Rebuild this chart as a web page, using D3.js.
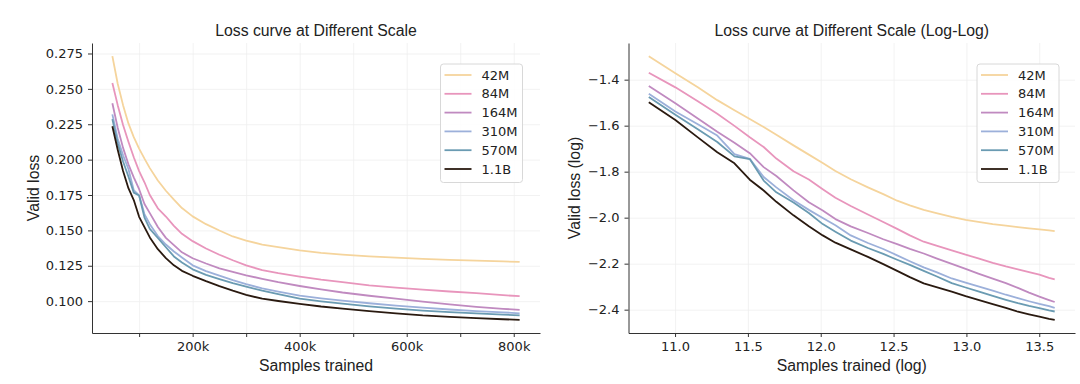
<!DOCTYPE html>
<html>
<head>
<meta charset="utf-8">
<script src="https://cdn.jsdelivr.net/npm/d3@7"></script>
<style>
  body { margin: 0; background: #fff; }
  svg text { font-family: "DejaVu Sans", sans-serif; fill: #222; }
  .grid line { stroke: #efefef; stroke-width: 0.8; }
  .grid .domain { display: none; }
  .axis .domain, .axis line { stroke: #333; }
</style>
</head>
<body>
<div id="chart"></div>
<script>
// samples trained, in thousands
const samplesK = [50, 60, 70, 80, 90, 100, 110, 120, 135, 150, 165, 180, 200, 225, 250, 275,
  300, 330, 360, 400, 440, 480, 530, 580, 630, 680, 730, 780, 811];

const loss42M = [0.2731, 0.2536, 0.2385, 0.2256, 0.2159, 0.2078, 0.2007, 0.1940, 0.1853, 0.1780,
  0.1717, 0.1658, 0.1599, 0.1544, 0.1499, 0.1457, 0.1428, 0.1400, 0.1381, 0.1358, 0.1341, 0.1329,
  0.1316, 0.1307, 0.1299, 0.1292, 0.1286, 0.1281, 0.1277];
const loss84M = [0.2541, 0.2385, 0.2245, 0.2127, 0.2017, 0.1919, 0.1840, 0.1750, 0.1656, 0.1598,
  0.1532, 0.1476, 0.1424, 0.1372, 0.1328, 0.1289, 0.1253, 0.1219, 0.1198, 0.1174, 0.1152, 0.1134,
  0.1112, 0.1095, 0.1081, 0.1068, 0.1056, 0.1042, 0.1035];
const loss164M = [0.2398, 0.2225, 0.2083, 0.1967, 0.1875, 0.1791, 0.1686, 0.1622, 0.1524, 0.1447,
  0.1396, 0.1345, 0.1303, 0.1266, 0.1232, 0.1206, 0.1182, 0.1158, 0.1134, 0.1107, 0.1083, 0.1061,
  0.1038, 0.1018, 0.0997, 0.0977, 0.0960, 0.0946, 0.0938];
const loss310M = [0.2320, 0.2148, 0.2031, 0.1934, 0.1784, 0.1748, 0.1615, 0.1544, 0.1460, 0.1400,
  0.1351, 0.1309, 0.1253, 0.1212, 0.1181, 0.1149, 0.1120, 0.1090, 0.1068, 0.1039, 0.1020, 0.1004,
  0.0985, 0.0968, 0.0954, 0.0941, 0.0930, 0.0921, 0.0914];
const loss570M = [0.2286, 0.2116, 0.1987, 0.1881, 0.1767, 0.1746, 0.1590, 0.1511, 0.1446, 0.1381,
  0.1316, 0.1273, 0.1225, 0.1186, 0.1156, 0.1127, 0.1102, 0.1074, 0.1049, 0.1018, 0.0999, 0.0982,
  0.0963, 0.0947, 0.0933, 0.0922, 0.0913, 0.0904, 0.0900];
const loss1_1B = [0.2236, 0.2070, 0.1919, 0.1798, 0.1714, 0.1596, 0.1523, 0.1450, 0.1367, 0.1304,
  0.1253, 0.1214, 0.1179, 0.1141, 0.1106, 0.1074, 0.1045, 0.1017, 0.1001, 0.0981, 0.0962, 0.0947,
  0.0929, 0.0914, 0.0899, 0.0889, 0.0880, 0.0872, 0.0868];

const seriesNames = ['42M', '84M', '164M', '310M', '570M', '1.1B'];
const seriesLoss = [loss42M, loss84M, loss164M, loss310M, loss570M, loss1_1B];
const seriesColors = ['#f5d49c', '#e895bc', '#c08ac0', '#9cb0da', '#6a9bb2', '#2a1a10'];

const linTicksX = [100, 200, 300, 400, 500, 600, 700, 800];
const linLabelsX = [200, 400, 600, 800];
const linTicksY = [0.100, 0.125, 0.150, 0.175, 0.200, 0.225, 0.250, 0.275];
const logTicksX = [11.0, 11.5, 12.0, 12.5, 13.0, 13.5];
const logTicksY = [-2.4, -2.2, -2.0, -1.8, -1.6, -1.4];

const W = 1080, H = 384;
const svg = d3.select('#chart').append('svg')
    .attr('width', W)
    .attr('height', H);

// matplotlib style 5% margins around the data
function padded(ext) {
    const p = (ext[1] - ext[0]) * 0.05;
    return [ext[0] - p, ext[1] + p];
}

const labelFont = '"Liberation Sans", Arial, sans-serif';

function drawPanel(o) {
    const data = seriesLoss.map(ls => samplesK.map((s, i) => ({ x: o.fx(s), y: o.fy(ls[i]) })));
    const all = data.flat();

    const x = d3.scaleLinear().domain(padded(d3.extent(all, d => d.x))).range([o.left, o.right]);
    const y = d3.scaleLinear().domain(padded(d3.extent(all, d => d.y))).range([o.bottom, o.top]);

    // grid
    svg.append('g')
        .attr('class', 'grid')
        .attr('transform', `translate(0, ${o.bottom})`)
        .call(d3.axisBottom(x).tickValues(o.xTicks).tickSize(-(o.bottom - o.top)).tickFormat(''));
    svg.append('g')
        .attr('class', 'grid')
        .attr('transform', `translate(${o.left}, 0)`)
        .call(d3.axisLeft(y).tickValues(o.yTicks).tickSize(-(o.right - o.left)).tickFormat(''));

    // lines
    const line = d3.line().x(d => x(d.x)).y(d => y(d.y));
    data.forEach((d, i) => {
        svg.append('path')
            .datum(d)
            .attr('fill', 'none')
            .attr('stroke', seriesColors[i])
            .attr('stroke-width', 1.8)
            .attr('stroke-linejoin', 'round')
            .attr('d', line);
    });

    // axes
    svg.append('g')
        .attr('class', 'axis')
        .attr('transform', `translate(0, ${o.bottom})`)
        .call(d3.axisBottom(x).tickValues(o.xTicks).tickFormat(o.xFmt).tickSize(4).tickPadding(5).tickSizeOuter(0))
        .call(g => g.selectAll('text').attr('font-size', 13).attr('font-family', 'DejaVu Sans').attr('fill', '#222'));
    svg.append('g')
        .attr('class', 'axis')
        .attr('transform', `translate(${o.left}, 0)`)
        .call(d3.axisLeft(y).tickValues(o.yTicks).tickFormat(o.yFmt).tickSize(4).tickPadding(5).tickSizeOuter(0))
        .call(g => g.selectAll('text').attr('font-size', 13).attr('font-family', 'DejaVu Sans').attr('fill', '#222'));

    const cx = (o.left + o.right) / 2;
    svg.append('text')
        .attr('x', cx).attr('y', 36)
        .attr('text-anchor', 'middle')
        .style('font-family', labelFont)
        .attr('font-size', 15.8)
        .text(o.title);
    svg.append('text')
        .attr('x', cx).attr('y', 371)
        .attr('text-anchor', 'middle')
        .style('font-family', labelFont)
        .attr('font-size', 15.8)
        .text(o.xLabel);
    svg.append('text')
        .attr('transform', `translate(${o.yLabelX}, ${(o.top + o.bottom) / 2}) rotate(-90)`)
        .attr('text-anchor', 'middle')
        .style('font-family', labelFont)
        .attr('font-size', 15.8)
        .text(o.yLabel);

    // legend
    const lg = svg.append('g').attr('transform', `translate(${o.legendX}, 64)`);
    lg.append('rect')
        .attr('width', 82).attr('height', 118.5)
        .attr('rx', 3)
        .attr('fill', '#fff').attr('fill-opacity', 0.85)
        .attr('stroke', '#d8d8d8');
    seriesNames.forEach((n, i) => {
        const ry = 11 + i * 18.8;
        lg.append('line')
            .attr('x1', 4).attr('x2', 31)
            .attr('y1', ry).attr('y2', ry)
            .attr('stroke', seriesColors[i])
            .attr('stroke-width', 1.8);
        lg.append('text')
            .attr('x', 41).attr('y', ry + 4.6)
            .attr('font-size', 13)
            .text(n);
    });
}

drawPanel({
    left: 92, right: 540, top: 43, bottom: 333,
    fx: s => s * 1000,
    fy: v => v,
    xTicks: linTicksX.map(v => v * 1000),
    xFmt: v => linLabelsX.includes(v / 1000) ? (v / 1000) + 'k' : '',
    yTicks: linTicksY,
    yFmt: d3.format('.3f'),
    title: 'Loss curve at Different Scale',
    xLabel: 'Samples trained',
    yLabel: 'Valid loss',
    yLabelX: 39,
    legendX: 440.5
});

drawPanel({
    left: 628.5, right: 1075, top: 43, bottom: 333,
    fx: s => Math.log(s * 1000),
    fy: v => Math.log(v),
    xTicks: logTicksX,
    xFmt: d3.format('.1f'),
    yTicks: logTicksY,
    yFmt: v => d3.format('.1f')(v).replace('-', '\u2212'),
    title: 'Loss curve at Different Scale (Log-Log)',
    xLabel: 'Samples trained (log)',
    yLabel: 'Valid loss (log)',
    yLabelX: 580,
    legendX: 977
});
</script>
</body>
</html>
